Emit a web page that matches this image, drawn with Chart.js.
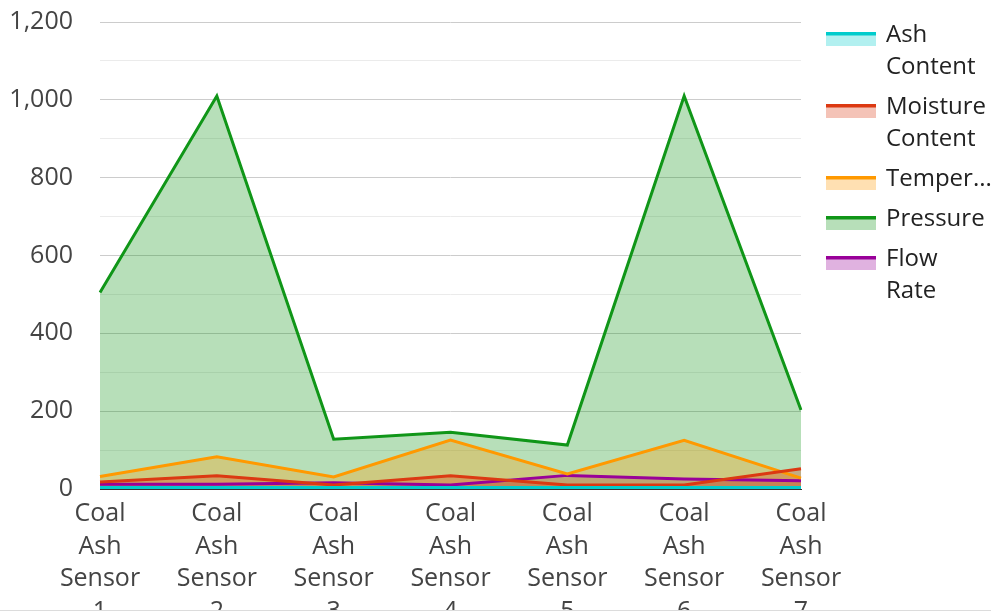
<!DOCTYPE html>
<html>
<head>
<meta charset="utf-8">
<title>Coal Ash Sensors</title>
<script src="https://cdn.jsdelivr.net/npm/chart.js@4.4.1/dist/chart.umd.min.js"></script>
<style>
  html, body { margin: 0; padding: 0; background: #fff; overflow: hidden; }
  #wrap { position: relative; width: 991px; height: 610px; overflow: hidden; border-bottom: 1px solid #dcdcdc; }
  #c { display: block; }
</style>
</head>
<body>
<div id="wrap"><canvas id="c" width="991" height="628" style="width:991px;height:628px"></canvas></div>
<script>
// Sensor readings per category
const categories = ["Coal Ash Sensor 1", "Coal Ash Sensor 2", "Coal Ash Sensor 3", "Coal Ash Sensor 4",
                    "Coal Ash Sensor 5", "Coal Ash Sensor 6", "Coal Ash Sensor 7"];
const seriesNames = ["Ash Content", "Moisture Content", "Temperature", "Pressure", "Flow Rate"];
const ashContent      = [4, 4, 4, 4, 4, 4, 4];
const moistureContent = [18, 34, 10, 34, 10, 10, 52];
const temperature     = [32, 83, 31, 126, 39, 125, 28];
const pressure        = [505, 1010, 128, 146, 113, 1010, 203];
const flowRate        = [12, 12, 16, 10, 35, 26, 21];
const yTicks = [0, 200, 400, 600, 800, 1000, 1200];

const FONT = '"Open Sans", "Noto Sans", sans-serif';
const lineColors = ["#00cccc", "#dc3912", "#ff9900", "#109618", "#990099"];
const fillColors = ["rgba(0,204,204,0.3)", "rgba(220,57,18,0.3)", "rgba(255,153,0,0.3)",
                    "rgba(16,150,24,0.3)", "rgba(153,0,153,0.3)"];
const seriesValues = [ashContent, moistureContent, temperature, pressure, flowRate];

// Wrap a label into lines of at most maxW pixels; single words that are too long get an ellipsis
function wrapLabel(ctx, text, maxW) {
  const words = text.split(" ");
  const lines = [];
  let cur = "";
  for (const w of words) {
    const test = cur ? cur + " " + w : w;
    if (ctx.measureText(test).width <= maxW) { cur = test; continue; }
    if (cur) lines.push(cur);
    cur = w;
  }
  if (cur) lines.push(cur);
  return lines.map(l => {
    if (ctx.measureText(l).width <= maxW) return l;
    let s = l;
    while (s.length > 1 && ctx.measureText(s + "...").width > maxW) s = s.slice(0, -1);
    return s + "...";
  });
}

// Legend on the right: line-over-area swatch plus wrapped series name
const sideLegend = {
  id: "sideLegend",
  afterDraw(chart) {
    const ctx = chart.ctx;
    const x0 = chart.chartArea.right + 25;
    const tx = x0 + 60;
    const maxW = 107;
    const lineH = 32;
    ctx.save();
    ctx.font = "24px " + FONT;
    ctx.textAlign = "left";
    ctx.textBaseline = "alphabetic";
    let y = 32;
    chart.data.datasets.forEach(ds => {
      const lines = wrapLabel(ctx, ds.label, maxW);
      ctx.fillStyle = ds.backgroundColor;
      ctx.fillRect(x0, y, 50, 14);
      ctx.fillStyle = ds.borderColor;
      ctx.fillRect(x0, y, 50, 3.5);
      ctx.fillStyle = "#222";
      lines.forEach((l, i) => ctx.fillText(l, tx, y + 10 + i * lineH));
      y += lines.length * lineH + 8;
    });
    ctx.restore();
  }
};

function draw() {
  new Chart(document.getElementById("c"), {
    type: "line",
    data: {
      labels: categories.map(c => c.split(" ")),
      datasets: seriesNames.map((name, i) => ({
        label: name,
        data: seriesValues[i],
        borderColor: lineColors[i],
        backgroundColor: fillColors[i],
        fill: "origin",
        borderWidth: 3,
        tension: 0,
        pointRadius: 0,
        pointHoverRadius: 0
      }))
    },
    options: {
      responsive: false,
      animation: false,
      layout: { autoPadding: false, padding: { left: 10, right: 190, top: 22, bottom: 0 } },
      plugins: {
        legend: { display: false },
        tooltip: { enabled: false },
        // all shaded areas first, every line on top of them
        filler: { drawTime: "beforeDatasetsDraw" }
      },
      elements: { line: { borderJoinStyle: "miter" } },
      scales: {
        x: {
          grid: { display: false, drawTicks: false },
          border: { display: true, color: "#333", width: 1 },
          afterFit: s => { s.height = 139; },
          ticks: {
            color: "#444",
            font: { family: FONT, size: 25, lineHeight: 1.3 },
            padding: 9,
            maxRotation: 0,
            autoSkip: false
          }
        },
        y: {
          min: 0,
          max: 1200,
          border: { display: false },
          afterFit: s => { s.width = 90; s.paddingTop = 0; s.paddingBottom = 0; },
          grid: {
            drawTicks: false,
            color: c => (yTicks.includes(c.tick.value) ? "#cccccc" : "#ebebeb"),
            lineWidth: 1
          },
          ticks: {
            stepSize: 100,
            color: "#444",
            font: { family: FONT, size: 25 },
            padding: 27,
            callback: v => (yTicks.includes(v) ? v.toLocaleString("en-US") : "")
          }
        }
      }
    },
    plugins: [sideLegend]
  });
}

if (document.fonts && document.fonts.load) {
  document.fonts.load('24px "Open Sans"').then(draw, draw);
} else {
  draw();
}
</script>
</body>
</html>
